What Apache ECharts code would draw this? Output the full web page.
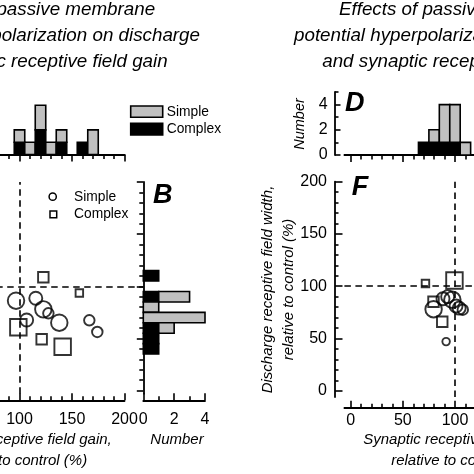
<!DOCTYPE html>
<html><head><meta charset="utf-8">
<script src="https://cdn.jsdelivr.net/npm/echarts@6/dist/echarts.min.js"></script>
<style>html,body{margin:0;padding:0;background:#fff}#c{width:474px;height:474px}</style>
</head><body><div id="c"></div>
<script>
// ================= DATA =================
const binWidth = 10;
// Top-left histogram (synaptic receptive field gain, % of control)
const histABinStart = [95, 105, 115, 125, 135, 145, 155, 165];
const histAComplex  = [1, 0, 2, 0, 1, 0, 1, 0];
const histASimple   = [1, 1, 2, 1, 1, 0, 0, 2];
// Panel B scatter (x: synaptic RF gain %, y: discharge RF gain %)
const bSimpleX     = [96.7, 115.5, 106.8, 122.7, 127.5, 137.9, 166.5, 174.1];
const bSimpleY     = [86.2, 88.5, 67.7, 77.9, 74.1, 65.1, 67.4, 56.2];
const bSimpleLevel = [4, 3, 3, 4, 2, 4, 2, 2];
const bComplexX     = [122.7, 157.0, 98.9, 121.1, 141.1];
const bComplexY     = [108.6, 93.6, 60.7, 49.2, 42.0];
const bComplexLevel = [2, 1, 4, 2, 4];
// Panel B side histogram (discharge RF gain bins)
const histBBinStart = [105, 85, 75, 65, 55, 45, 35];
const histBComplex  = [1, 1, 0, 0, 1, 1, 1];
const histBSimple   = [0, 2, 1, 4, 1, 0, 0];
// Panel D histogram (synaptic RF width bins)
const histDBinStart = [65, 75, 85, 95, 105];
const histDComplex  = [1, 1, 1, 1, 0];
const histDSimple   = [0, 1, 3, 3, 1];
// Panel F scatter (x: synaptic RF width %, y: discharge RF width %)
const fSimpleX     = [79.5, 88.5, 93.0, 91.5, 97.5, 101.0, 104.0, 107.5];
const fSimpleY     = [78.0, 88.0, 90.0, 47.0, 87.0, 81.0, 79.0, 77.5];
const fSimpleLevel = [4, 3, 3, 1, 4, 3, 3, 2];
const fComplexX     = [99.5, 71.7, 79.4, 87.8];
const fComplexY     = [105.5, 102.6, 85.2, 66.0];
const fComplexLevel = [4, 1, 2, 2];
// Tick values
const pctTicksMajor = [0, 50, 100, 150, 200];
const pctTicksMinor = [10, 20, 30, 40, 60, 70, 80, 90, 110, 120, 130, 140, 160, 170, 180, 190];
const numTicksMajor = [0, 2, 4];
const numTicksMinor = [1, 3, 5];
const numTicksMinorB = [1, 3];
const refLevel = 100;

// ================= STYLE =================
const FONT = "'Liberation Sans', Arial, sans-serif";
const GRAY = '#c0c0c0';
const LEVEL_SIZE = {1: 7.5, 2: 10.5, 3: 13, 4: 16.5};
const TICK_FONT = 16;

function ax(o) {
  if (o.hidden) return {type: 'value', gridIndex: o.g, min: o.min, max: o.max, show: false, position: o.pos};
  return {
    type: 'value', gridIndex: o.g, min: o.min, max: o.max, position: o.pos, offset: o.off || 0,
    axisLine: {show: !!o.line, onZero: false, lineStyle: {color: '#000', width: 1.8}},
    axisTick: {show: true, customValues: o.ticks, length: o.len, inside: !!o.inside, lineStyle: {color: '#000', width: 1.6}},
    axisLabel: {show: !!o.labels, customValues: o.ticks, margin: o.margin || 8, fontSize: TICK_FONT, color: '#000', fontFamily: FONT},
    splitLine: {show: false}, minorTick: {show: false}, silent: true
  };
}

const gridBoxes = [
  {left: -91.8, top: 93, width: 216.3, height: 61.5},     // 0 top-left histogram
  {left: -91.8, top: 182, width: 235.1, height: 211.7},   // 1 B scatter area
  {left: -91.8, top: 182, width: 216.3, height: 211.7},   // 2 B x axis
  {left: 143.3, top: 182, width: 61.7, height: 211.7},    // 3 B side histogram
  {left: 344.4, top: 92, width: 214.9, height: 63},       // 4 D histogram
  {left: 344.4, top: 181.7, width: 214.9, height: 215.3}  // 5 F scatter
];
const grid = gridBoxes.map(b => Object.assign({outerBoundsMode: 'none', containLabel: false}, b));

const xAxis = [
  ax({g: 0, min: -6, max: 200, pos: 'bottom', line: true, ticks: pctTicksMajor, len: 7}),            // 0
  ax({g: 0, min: -6, max: 200, pos: 'bottom', ticks: pctTicksMinor, len: 4.5}),                     // 1
  ax({g: 1, min: -6, max: 217.9, hidden: true}),                                                    // 2
  ax({g: 2, min: -6, max: 200, pos: 'bottom', off: 6.6, line: true, inside: true, ticks: pctTicksMajor, len: 7, labels: true, margin: 11.4}), // 3
  ax({g: 2, min: -6, max: 200, pos: 'bottom', off: 6.6, inside: true, ticks: pctTicksMinor, len: 4}), // 4
  ax({g: 3, min: 0, max: 4, pos: 'bottom', off: 6.6, line: true, inside: true, ticks: numTicksMajor, len: 7, labels: true, margin: 11.4}), // 5
  ax({g: 3, min: 0, max: 4, pos: 'bottom', off: 6.6, inside: true, ticks: numTicksMinorB, len: 4}), // 6
  ax({g: 4, min: -6, max: 200, pos: 'bottom', line: true, ticks: pctTicksMajor, len: 7}),            // 7
  ax({g: 4, min: -6, max: 200, pos: 'bottom', ticks: pctTicksMinor, len: 4.5}),                     // 8
  ax({g: 5, min: -6, max: 200, pos: 'bottom', off: 10.7, line: true, inside: true, ticks: pctTicksMajor, len: 7, labels: true, margin: 4.6}), // 9
  ax({g: 5, min: -6, max: 200, pos: 'bottom', off: 10.7, inside: true, ticks: pctTicksMinor, len: 4}) // 10
];
const yAxis = [
  ax({g: 0, min: 0, max: 5, hidden: true}),                                                         // 0
  ax({g: 1, min: -3, max: 200, hidden: true}),                                                      // 1
  ax({g: 2, min: -3, max: 200, hidden: true}),                                                      // 2
  ax({g: 3, min: -3, max: 200, pos: 'left', line: true, ticks: pctTicksMajor, len: 6.5}),           // 3
  ax({g: 3, min: -3, max: 200, pos: 'left', ticks: pctTicksMinor, len: 4}),                         // 4
  ax({g: 4, min: 0, max: 5, pos: 'left', off: 9.4, line: true, inside: true, ticks: numTicksMajor, len: 5.5, labels: true, margin: 7.3}), // 5
  ax({g: 4, min: 0, max: 5, pos: 'left', off: 9.4, inside: true, ticks: numTicksMinor, len: 3.5}),  // 6
  ax({g: 5, min: -6, max: 200, pos: 'left', off: 9.4, line: true, inside: true, ticks: pctTicksMajor, len: 7.5, labels: true, margin: 8}), // 7
  ax({g: 5, min: -6, max: 200, pos: 'left', off: 9.4, inside: true, ticks: pctTicksMinor, len: 3.5}) // 8
];

function rectFrom(p0, p1, fill) {
  return {type: 'rect',
    shape: {x: Math.min(p0[0], p1[0]), y: Math.min(p0[1], p1[1]), width: Math.abs(p1[0] - p0[0]), height: Math.abs(p1[1] - p0[1])},
    style: {fill: fill, stroke: '#000', lineWidth: 1.6}};
}
function renderV(params, api) {
  const lo = api.value(0), c = api.value(1), s = api.value(2), hi = lo + binWidth;
  const kids = [];
  if (c > 0) kids.push(rectFrom(api.coord([lo, 0]), api.coord([hi, c]), '#000'));
  if (s > 0) kids.push(rectFrom(api.coord([lo, c]), api.coord([hi, c + s]), GRAY));
  return {type: 'group', children: kids};
}
function renderH(params, api) {
  const lo = api.value(0), c = api.value(1), s = api.value(2), hi = lo + binWidth;
  const kids = [];
  if (c > 0) kids.push(rectFrom(api.coord([0, lo]), api.coord([c, hi]), '#000'));
  if (s > 0) kids.push(rectFrom(api.coord([c, lo]), api.coord([c + s, hi]), GRAY));
  return {type: 'group', children: kids};
}
const zip3 = (a, b, c) => a.map((v, i) => [v, b[i], c[i]]);

const dashed = {
  silent: true, symbol: ['none', 'none'], label: {show: false},
  lineStyle: {type: [6.5, 4.5], color: '#000', width: 1.6},
  data: [{xAxis: refLevel}, {yAxis: refLevel}], animation: false
};
function scatter(xi, yi, data, symbol, withLines) {
  const s = {
    type: 'scatter', xAxisIndex: xi, yAxisIndex: yi, data: data, symbol: symbol,
    symbolSize: v => LEVEL_SIZE[v[2]],
    itemStyle: {color: 'transparent', borderColor: '#000', borderWidth: 1.9},
    emphasis: {disabled: true}, silent: true, z: 3
  };
  if (withLines) s.markLine = dashed;
  return s;
}

const series = [
  {type: 'custom', xAxisIndex: 0, yAxisIndex: 0, renderItem: renderV, data: zip3(histABinStart, histAComplex, histASimple), encode: {x: 0, y: 1}, silent: true},
  scatter(2, 1, zip3(bSimpleX, bSimpleY, bSimpleLevel), 'circle', true),
  scatter(2, 1, zip3(bComplexX, bComplexY, bComplexLevel), 'rect', false),
  {type: 'custom', xAxisIndex: 5, yAxisIndex: 3, renderItem: renderH, data: zip3(histBBinStart, histBComplex, histBSimple), encode: {x: 1, y: 0}, silent: true},
  {type: 'custom', xAxisIndex: 7, yAxisIndex: 5, renderItem: renderV, data: zip3(histDBinStart, histDComplex, histDSimple), encode: {x: 0, y: 1}, silent: true},
  scatter(9, 7, zip3(fSimpleX, fSimpleY, fSimpleLevel), 'circle', true),
  scatter(9, 7, zip3(fComplexX, fComplexY, fComplexLevel), 'rect', false)
];

function txt(x, y, text, o) {
  o = o || {};
  return {type: 'text', x: x, y: y, rotation: o.rot || 0, silent: true, z: 10,
    style: {text: text, fill: '#000', fontFamily: FONT, fontSize: o.size || 15,
      fontStyle: o.italic ? 'italic' : 'normal', fontWeight: o.bold ? 'bold' : 'normal',
      align: o.align || 'left', verticalAlign: 'middle'}};
}
const titleLines = ['Effects of passive membrane', 'potential hyperpolarization on discharge'];
const graphic = [
  // titles
  txt(34, 10.2, titleLines[0], {size: 18.8, italic: true, align: 'center'}),
  txt(34, 35.5, titleLines[1], {size: 18.8, italic: true, align: 'center'}),
  txt(34, 61.8, 'and synaptic receptive field gain', {size: 18.8, italic: true, align: 'center'}),
  txt(460, 10.2, titleLines[0], {size: 18.8, italic: true, align: 'center'}),
  txt(460, 35.5, titleLines[1], {size: 18.8, italic: true, align: 'center'}),
  txt(460, 61.8, 'and synaptic receptive field width', {size: 18.8, italic: true, align: 'center'}),
  // histogram legend
  {type: 'rect', shape: {x: 130.7, y: 106, width: 32, height: 11.3}, style: {fill: GRAY, stroke: '#000', lineWidth: 1.6}, silent: true},
  {type: 'rect', shape: {x: 130.7, y: 123.3, width: 32, height: 11.7}, style: {fill: '#000', stroke: '#000', lineWidth: 1.6}, silent: true},
  txt(166.7, 112, 'Simple', {size: 13.8}),
  txt(166.7, 129.3, 'Complex', {size: 13.8}),
  // scatter legend
  {type: 'circle', shape: {cx: 52.7, cy: 196.7, r: 3.6}, style: {fill: 'none', stroke: '#000', lineWidth: 1.5}, silent: true},
  {type: 'rect', shape: {x: 50, y: 211, width: 6.7, height: 6.7}, style: {fill: 'none', stroke: '#000', lineWidth: 1.5}, silent: true},
  txt(74, 196.8, 'Simple', {size: 13.8}),
  txt(74, 214.2, 'Complex', {size: 13.8}),
  // panel letters
  txt(153, 195.6, 'B', {size: 27, bold: true, italic: true}),
  txt(345, 103.6, 'D', {size: 27, bold: true, italic: true}),
  txt(351.7, 188, 'F', {size: 27, bold: true, italic: true}),
  // axis titles
  txt(16.3, 440, 'Synaptic receptive field gain,', {italic: true, align: 'center'}),
  txt(16.3, 461, 'relative to control (%)', {italic: true, align: 'center'}),
  txt(177, 440, 'Number', {italic: true, align: 'center'}),
  txt(462, 440, 'Synaptic receptive field width,', {italic: true, align: 'center'}),
  txt(462, 461, 'relative to control (%)', {italic: true, align: 'center'}),
  txt(267.5, 289.5, 'Discharge receptive field width,', {italic: true, align: 'center', rot: Math.PI / 2}),
  txt(289, 289.5, 'relative to control (%)', {italic: true, align: 'center', rot: Math.PI / 2}),
  txt(300, 124, 'Number', {italic: true, align: 'center', rot: Math.PI / 2, size: 14.5})
];

const chart = echarts.init(document.getElementById('c'), null, {renderer: 'canvas'});
chart.setOption({
  animation: false, backgroundColor: '#fff',
  grid: grid, xAxis: xAxis, yAxis: yAxis, series: series, graphic: graphic
});
</script></body></html>
